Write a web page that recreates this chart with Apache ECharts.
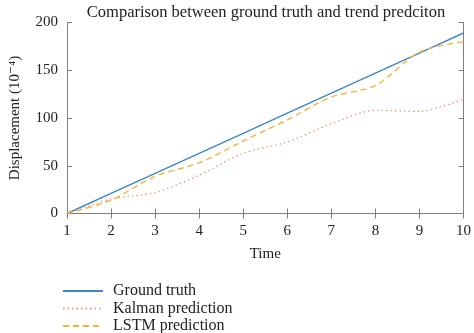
<!DOCTYPE html>
<html>
<head>
<meta charset="utf-8">
<script src="https://cdn.jsdelivr.net/npm/echarts@6/dist/echarts.min.js"></script>
<style>
  html, body { margin: 0; padding: 0; background: #ffffff; }
  #chart { width: 474px; height: 333px; }
</style>
</head>
<body>
<div id="chart"></div>
<script>
// Time steps and displacement series (units of 10^-4)
const timeSteps = [1, 2, 3, 4, 5, 6, 7, 8, 9, 10];
const groundTruth = [0, 21, 42, 63, 84, 105, 126, 147, 168, 189];
const kalmanPred = [0, 15, 22, 40, 63, 75, 94, 108, 107, 120];
const lstmPred = [0, 14, 39, 53, 76, 98, 122, 134, 169, 180];
const yTicks = [0, 50, 100, 150, 200];

const FONT = '"Liberation Serif", "DejaVu Serif", serif';
const frameColor = '#7f7f7f';
const textColor = '#222';

const pairs = (ys) => timeSteps.map((t, i) => [t, ys[i]]);

const chart = echarts.init(document.getElementById('chart'), null, { renderer: 'canvas' });

const frameAxisLine = { show: true, lineStyle: { color: frameColor, width: 1 } };
const frameTick = { show: true, inside: true, length: 5, lineStyle: { color: frameColor } };

chart.setOption({
  animation: false,
  backgroundColor: '#ffffff',
  title: {
    text: 'Comparison between ground truth and trend predciton',
    left: 261, top: -1, textAlign: 'center',
    textStyle: { fontFamily: FONT, fontSize: 16.5, fontWeight: 'normal', color: textColor }
  },
  grid: { left: 66, right: 8, top: 22.5, bottom: 119.5, containLabel: false },
  legend: {
    orient: 'vertical', left: 57, top: 278, height: 60,
    itemWidth: 40, itemHeight: 14, itemGap: 1.5,
    itemStyle: { opacity: 0 },
    textStyle: { fontFamily: FONT, fontSize: 16, lineHeight: 14, color: textColor, padding: [0, 0, 0, 5] },
    data: ['Ground truth', 'Kalman prediction', 'LSTM prediction']
  },
  xAxis: [{
    type: 'value', min: 1, max: 10, interval: 1,
    name: 'Time', nameLocation: 'middle', nameGap: 33,
    nameTextStyle: { fontFamily: FONT, fontSize: 15, color: textColor },
    axisLine: frameAxisLine, axisTick: frameTick,
    axisLabel: { fontFamily: FONT, fontSize: 15, color: textColor, margin: 10 },
    splitLine: { show: false }
  }, {
    type: 'value', min: 1, max: 10, interval: 1, position: 'top',
    axisLine: frameAxisLine, axisTick: frameTick,
    axisLabel: { show: false }, splitLine: { show: false }
  }],
  yAxis: [{
    type: 'value', min: 0, max: 200, interval: 50,
    name: 'Displacement (10⁻⁴)', nameLocation: 'middle', nameGap: 44, nameRotate: 90,
    nameTextStyle: { fontFamily: FONT, fontSize: 15, color: textColor },
    axisLine: frameAxisLine, axisTick: frameTick,
    axisLabel: { fontFamily: FONT, fontSize: 15, color: textColor, margin: 9,
      formatter: (v) => yTicks.includes(v) ? String(v) : '' },
    splitLine: { show: false }
  }, {
    type: 'value', min: 0, max: 200, interval: 50, position: 'right',
    axisLine: frameAxisLine, axisTick: frameTick,
    axisLabel: { show: false }, splitLine: { show: false }
  }],
  series: [{
    name: 'Ground truth', type: 'line', data: pairs(groundTruth),
    symbol: 'none', smooth: false,
    lineStyle: { color: '#3b87c9', width: 1.4, type: 'solid' },
    itemStyle: { color: '#3b87c9' }
  }, {
    name: 'Kalman prediction', type: 'line', data: pairs(kalmanPred),
    symbol: 'none', smooth: 0.3,
    lineStyle: { color: '#ec9a86', width: 1.4, type: [1.5, 3] },
    itemStyle: { color: '#ec9a86' }
  }, {
    name: 'LSTM prediction', type: 'line', data: pairs(lstmPred),
    symbol: 'none', smooth: 0.3,
    lineStyle: { color: '#f3b43a', width: 1.4, type: [6, 4] },
    itemStyle: { color: '#f3b43a' }
  }]
});
</script>
</body>
</html>
